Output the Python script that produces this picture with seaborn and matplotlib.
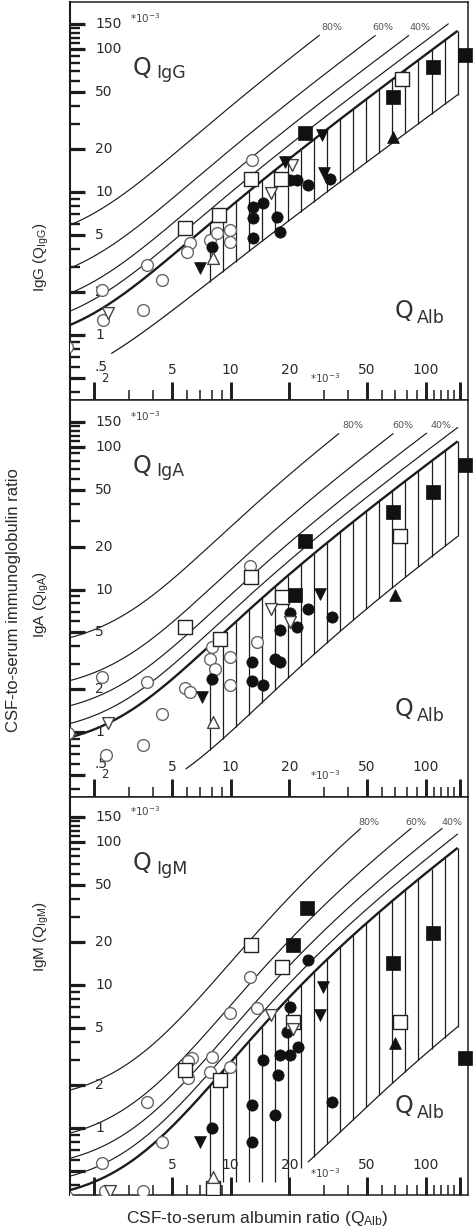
import numpy as np
import pandas as pd
import matplotlib
matplotlib.use("Agg")
import matplotlib.pyplot as plt
import matplotlib.transforms as mtransforms
from matplotlib.ticker import FixedLocator, NullFormatter
import seaborn as sns

# ---------------- data: quotients in units of 10^-3 ----------------
# group codes: oc open circle, fc filled circle, os open square, fs filled square,
# odt open down-triangle, fdt filled down-triangle, out open up-triangle, fut filled up-triangle
IGG_QALB = [2.18, 3.71, 4.43, 3.56, 2.22, 6.18, 5.95, 7.83, 8.48, 9.92, 9.92, 12.8, 1.45,
            5.83, 8.74, 12.7, 18.1, 75.3,
            24.0, 68.2, 109, 159,
            14.7, 13.1, 13.1, 13.1, 17.2, 17.9, 20.1, 21.8, 25.0, 32.3, 8.0,
            6.96, 29.3, 30.0, 19.0,
            2.36, 16.2, 20.6,
            8.14,
            68.2]
IGG_Q = [2.06, 3.09, 2.42, 1.50, 1.27, 4.40, 3.80, 4.62, 5.17, 5.42, 4.49, 16.7, 0.82,
         5.6, 6.9, 12.3, 12.3, 61.7,
         25.9, 46.2, 74.8, 90.8,
         8.4, 7.85, 6.6, 4.77, 6.7, 5.25, 12.1, 12.1, 11.2, 12.3, 4.1,
         2.94, 25.0, 13.6, 16.2,
         1.43, 9.84, 15.4,
         3.45,
         24.2]
IGG_GROUP = (["oc"] * 13 + ["os"] * 5 + ["fs"] * 4 + ["fc"] * 11 + ["fdt"] * 4 +
             ["odt"] * 3 + ["out"] * 1 + ["fut"] * 1)

IGA_QALB = [2.18, 3.71, 4.43, 3.56, 2.3, 5.83, 6.18, 8.0, 7.83, 8.3, 9.92, 9.92, 13.6, 12.6, 1.47,
            5.83, 8.8, 12.7, 18.3, 74.2,
            24.0, 21.4, 68.2, 109, 159,
            8.0, 12.8, 12.8, 14.7, 16.9, 17.9, 17.9, 20.1, 21.8, 25.0, 33.0,
            7.1, 28.7,
            2.36, 16.2, 20.1,
            8.14,
            69.6]
IGA_Q = [2.44, 2.25, 1.35, 0.81, 0.69, 2.03, 1.9, 3.95, 3.28, 2.79, 3.36, 2.13, 4.28, 14.7, 0.99,
         5.45, 4.52, 12.2, 8.83, 23.9,
         22.0, 9.08, 35.1, 48.5, 74.5,
         2.37, 3.10, 2.27, 2.13, 3.28, 3.1, 5.17, 6.87, 5.45, 7.33, 6.41,
         1.77, 9.33,
         1.15, 7.33, 5.9,
         1.18,
         9.19]
IGA_GROUP = (["oc"] * 15 + ["os"] * 5 + ["fs"] * 5 + ["fc"] * 11 + ["fdt"] * 2 +
             ["odt"] * 3 + ["out"] * 1 + ["fut"] * 1)

IGM_QALB = [2.18, 3.71, 4.43, 6.06, 6.32, 6.06, 8.0, 7.83, 9.92, 9.92, 13.6, 12.6, 2.27, 3.56, 1.45,
            12.7, 18.3, 5.83, 8.8, 20.9, 74.2, 8.14,
            24.5, 20.9, 68.2, 109, 159,
            8.0, 12.8, 12.8, 14.7, 16.9, 17.5, 17.9, 20.1, 22.2, 19.4, 20.1, 25.0, 33.0,
            6.96, 29.85, 28.7,
            16.2, 20.9, 2.41,
            8.14,
            69.6]
IGM_Q = [0.567, 1.53, 0.80, 2.23, 3.07, 2.95, 3.15, 2.48, 2.68, 6.34, 6.87, 11.4, 0.36, 0.36, 0.33,
         19.05, 13.4, 2.54, 2.17, 5.54, 5.54, 0.38,
         34.4, 19.05, 14.2, 23.2, 3.07,
         1.0, 1.45, 0.80, 2.99, 1.23, 2.35, 3.24, 3.24, 3.70, 4.71, 7.05, 14.96, 1.53,
         0.80, 9.73, 6.17,
         6.17, 4.9, 0.36,
         0.457,
         3.91]
IGM_GROUP = (["oc"] * 15 + ["os"] * 7 + ["fs"] * 5 + ["fc"] * 13 + ["fdt"] * 3 +
             ["odt"] * 3 + ["out"] * 1 + ["fut"] * 1)

# Reiber hyperbolic limits, Q = ab*sqrt(QAlb^2 + b2) - c  (units 10^-3 / 10^-6)
IG_NAMES = ["IgG", "IgA", "IgM"]
UPPER_AB = [0.93, 0.77, 0.67]
UPPER_B2 = [7.3, 25.0, 122.0]
UPPER_C = [1.7, 3.1, 7.1]
LOWER_AB = [0.33, 0.17, 0.04]
LOWER_B2 = [4.0, 84.0, 600.0]
LOWER_C = [0.3, 1.3, 0.82]
IF_FRACTIONS = [0.2, 0.4, 0.6, 0.8]          # intrathecal fraction lines

Y_TICK_LABELS = ["150", "100", "50", "20", "10", "5", "2", "1", ".5"]
Y_TICK_VALUES = [150, 100, 50, 20, 10, 5, 2, 1, 0.5]
X_TICK_LABELS = ["2", "5", "10", "20", "50", "100"]
X_TICK_VALUES = [2, 5, 10, 20, 50, 100]
Y_MAJOR = [0.5, 1, 2, 5, 10, 20, 50, 100, 150]
Y_MINOR = [0.4, 0.6, 0.7, 0.8, 0.9, 3, 4, 6, 7, 8, 9, 30, 40, 60, 70, 80, 90, 110, 120, 130, 140]
X_MAJOR = [2, 5, 10, 20, 50, 100, 150]
X_MINOR = [3, 4, 6, 7, 8, 9, 30, 40, 60, 70, 80, 90, 110, 120, 130, 140]

# ---------------- layout / style ----------------
sns.set_style("ticks")
plt.rcParams["font.family"] = ["DejaVu Sans"]
plt.rcParams["mathtext.default"] = "regular"

W, H = 474, 1231
fig = plt.figure(figsize=(W / 100, H / 100), dpi=100)

PANELS = [  # (top px, bottom px, ylim)
    (2, 400, (0.351, 213.2)),
    (400, 797, (0.351, 213.2)),
    (797, 1195, (0.340, 206.4)),
]
XLIM = (1.5, 165)
LINE = "#1c1c1c"
TXT = "#2a2a2a"

STYLES = {
    "oc": dict(marker="o", s=72, color="white", edgecolor="#666666", linewidth=1.0),
    "fc": dict(marker="o", s=66, color="#111111", edgecolor="#111111", linewidth=0.5),
    "os": dict(marker="s", s=88, color="white", edgecolor="#222222", linewidth=1.0),
    "fs": dict(marker="s", s=88, color="#111111", edgecolor="#111111", linewidth=0.5),
    "odt": dict(marker="v", s=72, color="white", edgecolor="#444444", linewidth=1.0),
    "fdt": dict(marker="v", s=72, color="#111111", edgecolor="#111111", linewidth=0.5),
    "out": dict(marker="^", s=72, color="white", edgecolor="#444444", linewidth=1.0),
    "fut": dict(marker="^", s=72, color="#111111", edgecolor="#111111", linewidth=0.5),
}

DATA = [(IGG_QALB, IGG_Q, IGG_GROUP), (IGA_QALB, IGA_Q, IGA_GROUP), (IGM_QALB, IGM_Q, IGM_GROUP)]
LOWER_START = [2.45, 5.9, 25.0]
HATCH_FLOOR = [0.0, 0.0, 0.42]
PCT_POS = [  # axes-fraction x of the 40%, 60%, 80% labels, and y
    ([0.879, 0.786, 0.658], 0.937),
    ([0.935, 0.837, 0.711], 0.937),
    ([0.960, 0.869, 0.751], 0.935),
]
PCT_TEXT = [["40%", "60%", "80%"], ["40%.", "60%", "80%"], ["40%", "60%", "80%"]]

for k in range(3):
    top, bot, ylim = PANELS[k]
    ax = fig.add_axes([70 / W, 1 - bot / H, 398 / W, (bot - top) / H])
    ax.set_xscale("log")
    ax.set_yscale("log")
    ax.set_xlim(*XLIM)
    ax.set_ylim(*ylim)
    ph = bot - top

    # reference curves
    xg = np.geomspace(XLIM[0], 146, 500)
    qlim = UPPER_AB[k] * np.sqrt(xg ** 2 + UPPER_B2[k]) - UPPER_C[k]
    ax.plot(xg, qlim, color=LINE, lw=1.7, zorder=3, solid_capstyle="butt")
    for f in IF_FRACTIONS:
        cap = 150 if f == 0.2 else 125
        yv = qlim / (1 - f)
        yv = np.where(yv <= cap, yv, np.nan)
        ax.plot(xg, yv, color=LINE, lw=0.85, zorder=3)
    xl = np.geomspace(LOWER_START[k], 146, 300)
    ql = LOWER_AB[k] * np.sqrt(xl ** 2 + LOWER_B2[k]) - LOWER_C[k]
    ax.plot(xl, ql, color=LINE, lw=0.9, zorder=3)

    # vertical hatching of the reference range
    hx = np.geomspace(7.8, 146, 20)
    h_up = UPPER_AB[k] * np.sqrt(hx ** 2 + UPPER_B2[k]) - UPPER_C[k]
    h_lo = LOWER_AB[k] * np.sqrt(hx ** 2 + LOWER_B2[k]) - LOWER_C[k]
    h_lo = np.maximum(h_lo, HATCH_FLOOR[k])
    ax.vlines(hx, h_lo, h_up, color=LINE, lw=0.9, zorder=2)

    # data points
    qalb, q, grp = DATA[k]
    df = pd.DataFrame({"qalb": qalb, "q": q, "group": grp})
    for g, st in STYLES.items():
        sub = df[df["group"] == g]
        if len(sub) == 0:
            continue
        sns.scatterplot(data=sub, x="qalb", y="q", ax=ax, legend=False, zorder=6,
                        clip_on=(g != "fs"), **st)
    ax.set_xlabel("")
    ax.set_ylabel("")

    # ticks (inside)
    ax.xaxis.set_major_locator(FixedLocator(X_MAJOR))
    ax.xaxis.set_minor_locator(FixedLocator(X_MINOR))
    ax.yaxis.set_major_locator(FixedLocator(Y_MAJOR))
    ax.yaxis.set_minor_locator(FixedLocator(Y_MINOR))
    for axis in (ax.xaxis, ax.yaxis):
        axis.set_major_formatter(NullFormatter())
        axis.set_minor_formatter(NullFormatter())
    ax.tick_params(axis="x", which="major", direction="in", length=13, width=2.1,
                   color=LINE, bottom=True, top=False)
    ax.tick_params(axis="x", which="minor", direction="in", length=7.5, width=1.1,
                   color=LINE, bottom=True, top=False)
    ax.tick_params(axis="y", which="major", direction="in", length=10.5, width=2.3,
                   color=LINE, left=True, right=False)
    ax.tick_params(axis="y", which="minor", direction="in", length=7, width=1.7,
                   color=LINE, left=True, right=False)
    for sp in ax.spines.values():
        sp.set_color(LINE)
        sp.set_linewidth(1.1)
    ax.spines["left"].set_linewidth(1.5)

    # tick labels drawn inside the frame
    ytr = mtransforms.blended_transform_factory(ax.transAxes, ax.transData)
    xtr = mtransforms.blended_transform_factory(ax.transData, ax.transAxes)
    for lab, val in zip(Y_TICK_LABELS, Y_TICK_VALUES):
        if lab == ".5" and k == 2:
            continue
        yy = 0.6 if lab == ".5" else val
        ax.text(25 / 398, yy, lab, transform=ytr, ha="left", va="center",
                fontsize=10, color=TXT, zorder=4)
    ax.text(60 / 398, 165, r"*10$^{-3}$", transform=ytr, ha="left", va="center",
            fontsize=7.5, color="#444444", zorder=4)
    xlab_y = 30 / ph
    for lab, val in zip(X_TICK_LABELS, X_TICK_VALUES):
        if lab == "2":
            if k == 2:
                continue
            ax.text(2.26, 22 / ph, lab, transform=xtr, ha="center", va="center",
                    fontsize=8.5, color=TXT, zorder=4)
        else:
            ax.text(val, xlab_y, lab, transform=xtr, ha="center", va="center",
                    fontsize=10, color=TXT, zorder=4)
    ax.text(25.5, 22 / ph, r"*10$^{-3}$", transform=xtr, ha="left", va="center",
            fontsize=7.5, color="#444444", zorder=4)

    # percentage labels
    xs, yp = PCT_POS[k]
    for xp, t in zip(xs, PCT_TEXT[k]):
        ax.text(xp, yp, t, transform=ax.transAxes, ha="center", va="center",
                fontsize=6.8, color="#555555", zorder=4)

    # big Q labels
    ax.text(63 / 398, 1 - 73 / ph, "Q", transform=ax.transAxes, ha="left", va="baseline",
            fontsize=17, color="#333333", zorder=4)
    ax.text(86 / 398, 1 - 76.5 / ph, IG_NAMES[k], transform=ax.transAxes, ha="left",
            va="baseline", fontsize=12.5, color="#333333", zorder=4)
    ax.text(325 / 398, 1 - 316 / ph, "Q", transform=ax.transAxes, ha="left", va="baseline",
            fontsize=17, color="#333333", zorder=4)
    ax.text(347 / 398, 1 - 321 / ph, "Alb", transform=ax.transAxes, ha="left",
            va="baseline", fontsize=12.5, color="#333333", zorder=4)

# figure labels
LAB_FONT = ["Liberation Sans", "DejaVu Sans"]
fig.text(14 / W, 1 - 600 / H, "CSF-to-serum immunoglobulin ratio", rotation=90,
         ha="center", va="center", fontsize=12, color=TXT, family=LAB_FONT)
for name, yc in zip(IG_NAMES, [257, 605, 936]):
    fig.text(41 / W, 1 - yc / H, f"{name} (Q$_{{{name}}}$)", rotation=90,
             ha="center", va="center", fontsize=11, color=TXT, family=LAB_FONT)
fig.text(257 / W, 1 - 1218 / H, "CSF-to-serum albumin ratio (Q$_{Alb}$)",
         ha="center", va="center", fontsize=12.5, color=TXT, family=LAB_FONT)

fig.savefig("out.png", dpi=100)
